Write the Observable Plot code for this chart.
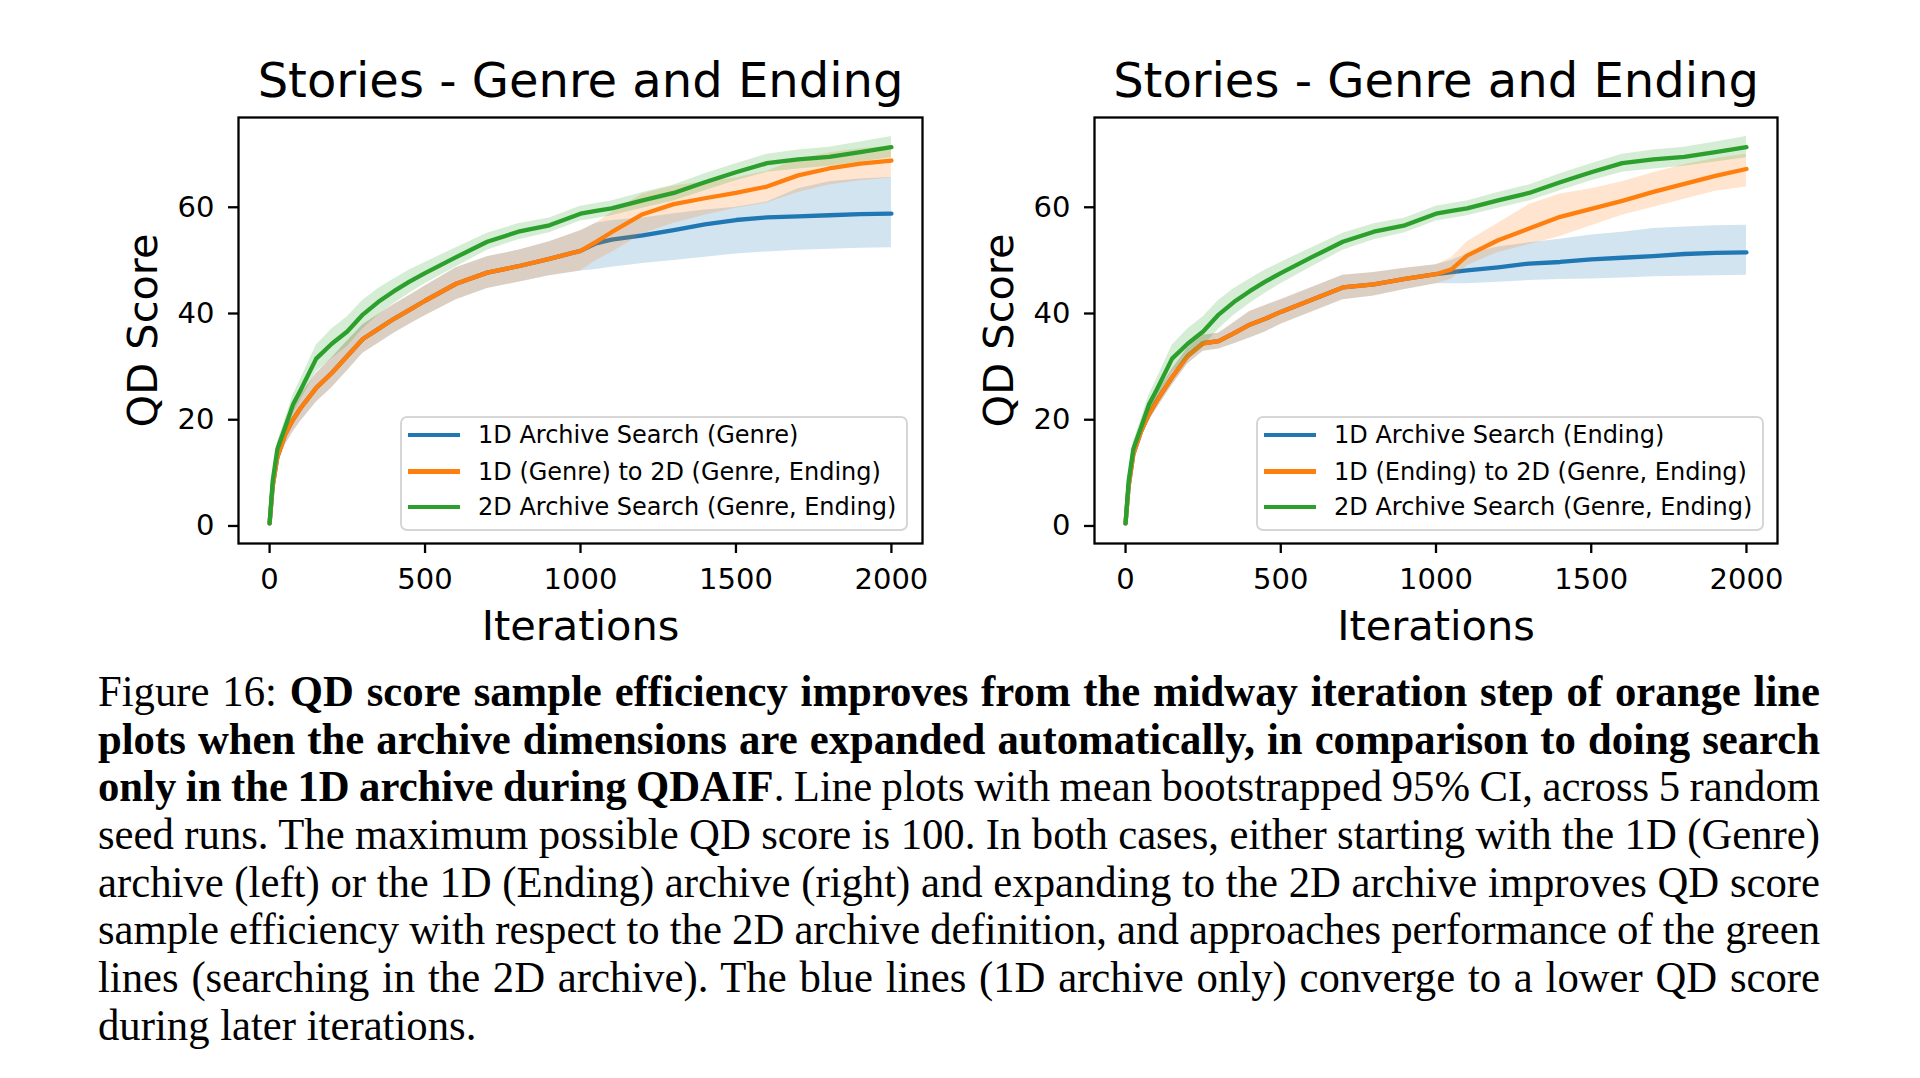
<!DOCTYPE html>
<html>
<head>
<meta charset="utf-8">
<script src="https://cdn.jsdelivr.net/npm/d3@7"></script>
<script src="https://cdn.jsdelivr.net/npm/@observablehq/plot@0.6"></script>
<style>
  html, body { margin: 0; padding: 0; background: #fff; overflow: hidden; }
  #page { position: relative; width: 1920px; height: 1078px; background: #fff; overflow: hidden; }
  .panel { position: absolute; top: 0; width: 960px; height: 660px; }
  .panel svg { display: block; background: transparent; max-width: none; }
  .legend { position: absolute; box-sizing: border-box; border: 2px solid rgba(204,204,204,0.8);
            border-radius: 7px; background: rgba(255,255,255,0.8);
            font-family: "DejaVu Sans"; font-size: 24px; color: #000; }
  .legend .handle { position: absolute; height: 4.4px; }
  .legend .label { position: absolute; }
  #caption { position: absolute; left: 98px; top: 668px; font-family: "Liberation Serif", "Times New Roman", serif;
             font-size: 44px; line-height: 47.7px; color: #000; transform-origin: 0 0; }
  #caption .capline { white-space: nowrap; height: 47.7px; }
  #caption b { font-weight: bold; }
</style>
</head>
<body>
<div id="page">
  <div id="left" class="panel" style="left:0px"></div>
  <div id="right" class="panel" style="left:960px"></div>
  <div id="caption"></div>
</div>
<script>
// ---------- data ----------
const iterations = [0,10,25,50,75,100,150,200,250,300,350,400,450,500,600,700,800,900,1000,1050,1100,1200,1300,1400,1500,1600,1700,1800,1900,2000];

const xTicks = [0, 500, 1000, 1500, 2000];
const yTicks = [0, 20, 40, 60];
const titleText = "Stories - Genre and Ending";
const xLabel = "Iterations";
const yLabel = "QD Score";
const colors = ["#1f77b4", "#ff7f0e", "#2ca02c"];

const leftNames = ["1D Archive Search (Genre)", "1D (Genre) to 2D (Genre, Ending)", "2D Archive Search (Genre, Ending)"];
const rightNames = ["1D Archive Search (Ending)", "1D (Ending) to 2D (Genre, Ending)", "2D Archive Search (Genre, Ending)"];

// 2D archive search (same runs in both panels)
const greenMean = [0.5,8.5,14.5,18.6,22.8,25.6,31.5,34.3,36.6,39.8,42.2,44.2,46.0,47.6,50.6,53.5,55.4,56.6,58.8,59.3,59.8,61.3,62.7,64.7,66.6,68.3,69.0,69.5,70.4,71.3];
const greenLo   = [0.2,7.5,13.3,17.1,21.0,23.6,29.0,31.5,33.8,37.1,39.7,41.9,43.8,45.6,48.8,51.9,53.9,55.2,57.4,57.9,58.4,59.8,61.2,63.1,65.0,66.6,67.2,67.7,68.5,69.3];
const greenHi   = [0.8,9.5,15.7,20.1,24.6,27.6,34.0,37.1,39.4,42.5,44.7,46.5,48.2,49.6,52.4,55.1,56.9,58.0,60.2,60.7,61.2,62.8,64.2,66.3,68.2,70.0,70.8,71.3,72.3,73.3];

// Left panel: 1D (Genre)
const leftBlueMean   = [0.5,7.5,13.0,17.2,20.0,22.2,26.0,28.8,32.0,35.2,37.1,39.0,40.7,42.4,45.6,47.7,48.9,50.3,51.8,53.2,53.9,54.7,55.7,56.8,57.6,58.1,58.3,58.5,58.7,58.8];
const leftBlueLo     = [0.2,6.5,11.5,15.2,17.7,19.7,23.3,26.0,29.2,32.5,34.4,36.3,38.0,39.6,42.6,44.7,45.9,47.1,48.0,48.3,48.7,49.4,50.0,50.6,51.2,51.6,51.9,52.1,52.3,52.4];
const leftBlueHi     = [0.8,8.5,14.5,19.2,22.3,24.7,28.7,31.6,34.8,37.9,39.8,41.7,43.4,45.2,48.6,50.7,51.9,53.5,55.6,57.0,57.5,58.0,58.8,59.5,60.0,61.0,63.5,64.8,65.3,65.6];
const leftOrangeMean = [0.5,7.5,13.0,17.2,20.0,22.2,26.0,28.8,32.0,35.2,37.1,39.0,40.7,42.4,45.6,47.7,48.9,50.3,51.8,53.5,55.3,58.7,60.6,61.7,62.7,63.9,66.0,67.3,68.2,68.8];
const leftOrangeLo   = [0.2,6.5,11.5,15.2,17.7,19.7,23.3,26.0,29.2,32.5,34.4,36.3,38.0,39.6,42.6,44.7,45.9,47.1,48.0,50.0,51.5,55.0,57.0,58.5,59.8,60.8,62.8,64.2,65.0,65.5];
const leftOrangeHi   = [0.8,8.5,14.5,19.2,22.3,24.7,28.7,31.6,34.8,37.9,39.8,41.7,43.4,45.2,48.6,50.7,51.9,53.5,55.6,57.0,59.0,62.5,64.0,64.8,65.5,66.8,69.0,70.2,71.0,71.5];

// Right panel: 1D (Ending)
const rightBlueMean   = [0.5,7.5,13.5,17.8,21.0,23.5,28.0,32.0,34.4,34.8,36.3,37.9,39.0,40.3,42.6,44.9,45.5,46.5,47.4,47.8,48.1,48.7,49.4,49.7,50.2,50.5,50.8,51.2,51.4,51.5];
const rightBlueLo     = [0.2,6.7,12.5,16.6,19.7,22.0,26.5,30.5,32.9,33.3,34.3,35.4,36.5,38.0,40.3,42.6,43.3,44.5,45.6,45.6,45.6,45.9,46.2,46.4,46.5,46.7,46.9,47.0,47.1,47.2];
const rightBlueHi     = [0.8,8.3,14.5,19.0,22.3,25.0,29.5,33.5,35.9,36.3,38.3,40.4,41.5,42.6,44.9,47.2,47.7,48.5,49.2,50.0,51.2,52.5,53.3,54.0,54.8,55.3,56.0,56.3,56.5,56.6];
const rightOrangeMean = [0.5,7.5,13.5,17.8,21.0,23.5,28.0,32.0,34.4,34.8,36.3,37.9,39.0,40.3,42.6,44.9,45.5,46.5,47.4,48.3,50.9,53.8,56.0,58.2,59.7,61.2,62.9,64.4,65.9,67.2];
const rightOrangeLo   = [0.2,6.7,12.5,16.6,19.7,22.0,26.5,30.5,32.9,33.3,34.3,35.4,36.5,38.0,40.3,42.6,43.3,44.5,45.6,46.5,49.0,51.5,53.0,54.5,56.5,58.5,60.0,61.5,63.0,63.8];
const rightOrangeHi   = [0.8,8.3,14.5,19.0,22.3,25.0,29.5,33.5,35.9,36.3,38.3,40.4,41.5,42.6,44.9,47.2,47.7,48.5,49.2,50.5,53.5,57.0,60.5,62.5,63.5,64.8,66.5,68.0,69.2,70.0];

const captionLines = [
  [["Figure 16: ", false], ["QD score sample efficiency improves from the midway iteration step of orange line", true]],
  [["plots when the archive dimensions are expanded automatically, in comparison to doing search", true]],
  [["only in the 1D archive during QDAIF", true], [". Line plots with mean bootstrapped 95% CI, across 5 random", false]],
  [["seed runs. The maximum possible QD score is 100. In both cases, either starting with the 1D (Genre)", false]],
  [["archive (left) or the 1D (Ending) archive (right) and expanding to the 2D archive improves QD score", false]],
  [["sample efficiency with respect to the 2D archive definition, and approaches performance of the green", false]],
  [["lines (searching in the 2D archive). The blue lines (1D archive only) converge to a lower QD score", false]],
  [["during later iterations.", false]]
];

// ---------- panels ----------
function makePanel(series, marginLeft, marginRight) {
  const marks = [];
  series.forEach(s => {
    marks.push(Plot.areaY(iterations, {x: iterations, y1: s.lo, y2: s.hi, fill: s.color, fillOpacity: 0.2}));
    marks.push(Plot.line(iterations, {x: iterations, y: s.mean, stroke: s.color, strokeWidth: 4.3, strokeLinejoin: "round"}));
  });
  marks.push(Plot.axisX({ticks: xTicks, tickFormat: d => String(d), tickSize: 10, tickPadding: 15, fontSize: 29, strokeWidth: 2.3, label: null}));
  marks.push(Plot.axisY({ticks: yTicks, tickFormat: d => String(d), tickSize: 10, tickPadding: 14, fontSize: 29, strokeWidth: 2.3, label: null}));
  marks.push(Plot.frame({stroke: "#000", strokeWidth: 2.3}));
  marks.push(Plot.text([titleText], {text: d => d, frameAnchor: "top", textAnchor: "middle", lineAnchor: "bottom", dy: -21, fontSize: 48}));
  marks.push(Plot.text([xLabel], {text: d => d, frameAnchor: "bottom", textAnchor: "middle", lineAnchor: "bottom", dy: 96, fontSize: 41.5}));
  marks.push(Plot.text([yLabel], {text: d => d, frameAnchor: "left", textAnchor: "middle", lineAnchor: "bottom", rotate: -90, dx: -82, fontSize: 41.5}));
  return Plot.plot({
    width: 960, height: 660,
    marginLeft, marginRight, marginTop: 117, marginBottom: 117,
    x: {domain: [-100, 2100]},
    y: {domain: [-3.3, 76.9]},
    style: {fontFamily: "DejaVu Sans", color: "#000", background: "transparent", overflow: "visible"},
    marks
  });
}

function makeLegend(names, left, top) {
  const box = document.createElement("div");
  box.className = "legend";
  Object.assign(box.style, {left: left + "px", top: top + "px", width: "508px", height: "115px"});
  const centers = [17, 53.5, 89.3];
  names.forEach((n, i) => {
    const h = document.createElement("div");
    h.className = "handle";
    Object.assign(h.style, {left: "6px", width: "52px", top: (centers[i] - 2.2) + "px", background: colors[i]});
    box.appendChild(h);
    const t = document.createElement("div");
    t.className = "label";
    Object.assign(t.style, {left: "76px", top: (centers[i] - 15) + "px", height: "30px", lineHeight: "30px", whiteSpace: "nowrap"});
    t.textContent = n;
    box.appendChild(t);
  });
  document.getElementById("page").appendChild(box);
}

const leftSeries = [
  {mean: leftBlueMean, lo: leftBlueLo, hi: leftBlueHi, color: colors[0]},
  {mean: leftOrangeMean, lo: leftOrangeLo, hi: leftOrangeHi, color: colors[1]},
  {mean: greenMean, lo: greenLo, hi: greenHi, color: colors[2]}
];
const rightSeries = [
  {mean: rightBlueMean, lo: rightBlueLo, hi: rightBlueHi, color: colors[0]},
  {mean: rightOrangeMean, lo: rightOrangeLo, hi: rightOrangeHi, color: colors[1]},
  {mean: greenMean, lo: greenLo, hi: greenHi, color: colors[2]}
];

document.getElementById("left").appendChild(makePanel(leftSeries, 238, 38));
document.getElementById("right").appendChild(makePanel(rightSeries, 134, 143));
makeLegend(leftNames, 400, 416);
makeLegend(rightNames, 1256, 416);

// ---------- caption ----------
const cap = document.getElementById("caption");
const target = 1722;
const inners = captionLines.map(parts => {
  const line = document.createElement("div");
  line.className = "capline";
  const inner = document.createElement("span");
  parts.forEach(([t, b]) => {
    const s = document.createElement(b ? "b" : "span");
    s.textContent = t;
    inner.appendChild(s);
  });
  line.appendChild(inner);
  cap.appendChild(line);
  return inner;
});
const widths = inners.map(s => s.getBoundingClientRect().width);
const ratios = widths.slice(0, -1).map(w => target / w);
const sc = d3.median(ratios);
cap.style.transform = `scaleX(${sc})`;
inners.forEach((sp, i) => {
  if (i < inners.length - 1) {
    const nSpaces = (sp.textContent.match(/ /g) || []).length;
    const extra = (target / sc - widths[i]) / nSpaces;
    sp.style.wordSpacing = extra + "px";
  }
});
</script>
</body>
</html>
